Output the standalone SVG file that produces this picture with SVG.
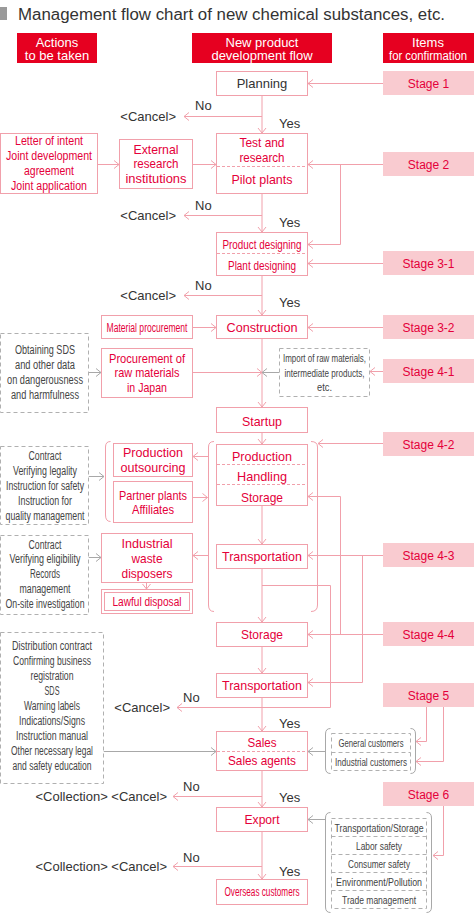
<svg xmlns="http://www.w3.org/2000/svg" width="474" height="914" viewBox="0 0 474 914">
<defs>
<marker id="ap" markerUnits="userSpaceOnUse" markerWidth="8" markerHeight="10" refX="6" refY="5" orient="auto"><path d="M1,1 L6,5 L1,9" fill="none" stroke="#f1a0ab" stroke-width="1"/></marker>
<marker id="ag" markerUnits="userSpaceOnUse" markerWidth="8" markerHeight="10" refX="6" refY="5" orient="auto"><path d="M1,1 L6,5 L1,9" fill="none" stroke="#a8a8a8" stroke-width="1"/></marker>
<style>
.b{fill:#fff;stroke:#f1a0ab;stroke-width:1}
.g{fill:#fff;stroke:#b0b0b0;stroke-width:1;stroke-dasharray:4 3}
.gn{fill:none;stroke:#b0b0b0;stroke-width:1;stroke-dasharray:4 3}
.st{fill:#f9cbd0}
.hd{fill:#e60020}
.l{fill:none;stroke:#f1a0ab;stroke-width:1}
.lg{fill:none;stroke:#a8a8a8;stroke-width:1}
.dv{stroke:#f1a0ab;stroke-width:1;stroke-dasharray:3 2}
text{font-family:"Liberation Sans",Arial,sans-serif;font-size:13px;text-anchor:middle}
.r{fill:#e4003a}
.k{fill:#333}
.gr{fill:#444;font-size:12px}
.w{fill:#fff}
.s{fill:#e4003a;font-size:12px}
.sm{font-size:12px}
.lt{text-anchor:start}
.en{text-anchor:end}
</style>
</defs>

<g id="title">
<rect x="0" y="7" width="7" height="13" fill="#9a9a9a"/>
<text class="k lt" x="18" y="19.5" style="font-size:16px" textLength="427" lengthAdjust="spacingAndGlyphs">Management flow chart of new chemical substances, etc.</text>
</g>

<g id="headers">
<rect class="hd" x="17" y="33" width="80" height="30"/>
<text class="w" x="57" y="46.5">Actions</text>
<text class="w" x="57" y="60">to be taken</text>
<rect class="hd" x="192" y="33" width="140" height="30"/>
<text class="w" x="262" y="46.5">New product</text>
<text class="w" x="262" y="60">development flow</text>
<rect class="hd" x="383" y="33" width="91" height="30"/>
<text class="w" x="428" y="46.5">Items</text>
<text class="w" x="428" y="60" style="font-size:12px" textLength="78" lengthAdjust="spacingAndGlyphs">for confirmation</text>
</g>

<g id="stages">
<g id="stage1"><rect class="st" x="383" y="71" width="91" height="24"/><text class="s" x="428.5" y="87.5">Stage 1</text></g>
<g id="stage2"><rect class="st" x="383" y="152" width="91" height="24"/><text class="s" x="428.5" y="168.5">Stage 2</text></g>
<g id="stage3-1"><rect class="st" x="383" y="251" width="91" height="24"/><text class="s" x="428.5" y="267.5">Stage 3-1</text></g>
<g id="stage3-2"><rect class="st" x="383" y="315" width="91" height="24"/><text class="s" x="428.5" y="331.5">Stage 3-2</text></g>
<g id="stage4-1"><rect class="st" x="383" y="359" width="91" height="24"/><text class="s" x="428.5" y="375.5">Stage 4-1</text></g>
<g id="stage4-2"><rect class="st" x="383" y="432" width="91" height="24"/><text class="s" x="428.5" y="448.5">Stage 4-2</text></g>
<g id="stage4-3"><rect class="st" x="383" y="543" width="91" height="24"/><text class="s" x="428.5" y="559.5">Stage 4-3</text></g>
<g id="stage4-4"><rect class="st" x="383" y="622" width="91" height="24"/><text class="s" x="428.5" y="638.5">Stage 4-4</text></g>
<g id="stage5"><rect class="st" x="383" y="683" width="91" height="24"/><text class="s" x="428.5" y="699.5">Stage 5</text></g>
<g id="stage6"><rect class="st" x="383" y="782" width="91" height="24"/><text class="s" x="428.5" y="798.5">Stage 6</text></g>
</g>

<g id="connectors">
<path class="l" d="M262 95.5V133" marker-end="url(#ap)"/>
<path class="l" d="M262 193.5V232" marker-end="url(#ap)"/>
<path class="l" d="M262 275.5V315" marker-end="url(#ap)"/>
<path class="l" d="M262 338.5V407" marker-end="url(#ap)"/>
<path class="l" d="M262 432.5V444" marker-end="url(#ap)"/>
<path class="l" d="M262 505.5V544" marker-end="url(#ap)"/>
<path class="l" d="M262 568.5V622" marker-end="url(#ap)"/>
<path class="l" d="M262 646.5V673" marker-end="url(#ap)"/>
<path class="l" d="M262 697.5V731" marker-end="url(#ap)"/>
<path class="l" d="M262 770.5V807" marker-end="url(#ap)"/>
<path class="l" d="M262 831.5V879" marker-end="url(#ap)"/>
<path class="l" d="M262 116.5H184" marker-end="url(#ap)"/>
<path class="l" d="M262 215.5H184" marker-end="url(#ap)"/>
<path class="l" d="M262 295.5H184" marker-end="url(#ap)"/>
<path class="l" d="M262 585.5H330.5V707.5H177" marker-end="url(#ap)"/>
<path class="l" d="M262 796.5H173" marker-end="url(#ap)"/>
<path class="l" d="M262 866.5H173" marker-end="url(#ap)"/>
<path class="l" d="M383 83.5H308" marker-end="url(#ap)"/>
<path class="l" d="M383 164.5H308" marker-end="url(#ap)"/>
<path class="l" d="M340.5 164.5V244.5H308" marker-end="url(#ap)"/>
<path class="l" d="M383 263.5H308" marker-end="url(#ap)"/>
<path class="l" d="M383 327.5H308" marker-end="url(#ap)"/>
<path class="l" d="M383 371.5H370" marker-end="url(#ap)"/>
<path class="l" d="M383 443.5H318" marker-end="url(#ap)"/>
<path class="l" d="M383 555.5H308" marker-end="url(#ap)"/>
<path class="l" d="M362.5 555.5V682.5H308" marker-end="url(#ap)"/>
<path class="l" d="M383 634.5H308" marker-end="url(#ap)"/>
<path class="l" d="M340.5 634.5V496.5H308" marker-end="url(#ap)"/>
<path class="l" d="M426.5 707V741.5H416" marker-end="url(#ap)"/>
<path class="l" d="M443.5 707V761.5H416" marker-end="url(#ap)"/>
<path class="l" d="M443.5 806V855.5H433" marker-end="url(#ap)"/>
<path class="l" d="M97.5 164.5H119" marker-end="url(#ap)"/>
<path class="l" d="M192.5 164.5H216" marker-end="url(#ap)"/>
<path class="l" d="M192.5 327.5H216" marker-end="url(#ap)"/>
<path class="l" d="M192.5 372.5H262" marker-end="url(#ap)"/>
<path class="lg" d="M279.5 372.5H262" marker-end="url(#ag)"/>
<path class="lg" d="M88.5 372.5H101" marker-end="url(#ag)"/>
<path class="l" d="M208 456.5H193" marker-end="url(#ap)"/>
<path class="l" d="M192.5 497.5H207.5" marker-end="url(#ap)"/>
<path class="lg" d="M88.5 476.5H104" marker-end="url(#ag)"/>
<path class="l" d="M208 555.5H193" marker-end="url(#ap)"/>
<path class="lg" d="M88.5 557.5H101" marker-end="url(#ag)"/>
<path class="l" d="M146.5 582.5V589" marker-end="url(#ap)"/>
<path class="lg" d="M103.5 751.5H216" marker-end="url(#ag)"/>
<path class="lg" d="M325 751.5H308" marker-end="url(#ag)"/>
<path class="lg" d="M325 819.5H308" marker-end="url(#ag)"/>
</g>

<g id="labels">
<text class="k lt" x="195" y="110">No</text>
<text class="k lt" x="279" y="128">Yes</text>
<text class="k en" x="176" y="120.5">&lt;Cancel&gt;</text>
<text class="k lt" x="195" y="210">No</text>
<text class="k lt" x="279" y="227">Yes</text>
<text class="k en" x="176" y="219.5">&lt;Cancel&gt;</text>
<text class="k lt" x="195" y="290">No</text>
<text class="k lt" x="279" y="307">Yes</text>
<text class="k en" x="176" y="299.5">&lt;Cancel&gt;</text>
<text class="k lt" x="183" y="701.5">No</text>
<text class="k lt" x="279" y="728">Yes</text>
<text class="k en" x="170" y="711.5">&lt;Cancel&gt;</text>
<text class="k lt" x="183" y="791">No</text>
<text class="k lt" x="279" y="802">Yes</text>
<text class="k en" x="167" y="801">&lt;Collection&gt; &lt;Cancel&gt;</text>
<text class="k lt" x="183" y="862">No</text>
<text class="k lt" x="279" y="876">Yes</text>
<text class="k en" x="167" y="871">&lt;Collection&gt; &lt;Cancel&gt;</text>
</g>

<g id="planning"><rect class="b" x="216.5" y="71.5" width="91" height="24"/><text class="k" x="262" y="88">Planning</text></g>

<g id="test-research">
<rect class="b" x="216.5" y="133.5" width="91" height="60"/>
<line class="dv" x1="217" y1="166.5" x2="307" y2="166.5"/>
<text class="r" x="262" y="146.5" textLength="45" lengthAdjust="spacingAndGlyphs">Test and</text>
<text class="r" x="262" y="161.5" textLength="45" lengthAdjust="spacingAndGlyphs">research</text>
<text class="r" x="262" y="183.5" textLength="61" lengthAdjust="spacingAndGlyphs">Pilot plants</text>
</g>

<g id="designing">
<rect class="b" x="216.5" y="232.5" width="91" height="43"/>
<line class="dv" x1="217" y1="253.5" x2="307" y2="253.5"/>
<text class="r sm" x="262" y="248.5" textLength="79" lengthAdjust="spacingAndGlyphs">Product designing</text>
<text class="r sm" x="262" y="270" textLength="68" lengthAdjust="spacingAndGlyphs">Plant designing</text>
</g>

<g id="construction"><rect class="b" x="216.5" y="315.5" width="91" height="23"/><text class="r" x="262" y="331.5" textLength="71" lengthAdjust="spacingAndGlyphs">Construction</text></g>

<g id="startup"><rect class="b" x="216.5" y="407.5" width="91" height="25"/><text class="r" x="262" y="426" textLength="40" lengthAdjust="spacingAndGlyphs">Startup</text></g>

<g id="production">
<rect class="b" x="216.5" y="444.5" width="91" height="61"/>
<line class="dv" x1="217" y1="464.5" x2="307" y2="464.5"/>
<line class="dv" x1="217" y1="484.5" x2="307" y2="484.5"/>
<text class="r" x="262" y="460.5" textLength="60" lengthAdjust="spacingAndGlyphs">Production</text>
<text class="r" x="262" y="481" textLength="50" lengthAdjust="spacingAndGlyphs">Handling</text>
<text class="r" x="262" y="501.5" textLength="42" lengthAdjust="spacingAndGlyphs">Storage</text>
</g>

<g id="production-bracket">
<path class="l" d="M214 441.5Q208.5 441.5 208.5 447V605Q208.5 611.5 214 611.5"/>
<path class="l" d="M311 441.5Q317.5 441.5 317.5 447V605Q317.5 611.5 311 611.5"/>
</g>

<g id="transportation1"><rect class="b" x="216.5" y="544.5" width="91" height="24"/><text class="r" x="262" y="561" textLength="80" lengthAdjust="spacingAndGlyphs">Transportation</text></g>

<g id="storage2"><rect class="b" x="216.5" y="622.5" width="91" height="24"/><text class="r" x="262" y="638.5" textLength="42" lengthAdjust="spacingAndGlyphs">Storage</text></g>

<g id="transportation2"><rect class="b" x="216.5" y="673.5" width="91" height="24"/><text class="r" x="262" y="689.5" textLength="80" lengthAdjust="spacingAndGlyphs">Transportation</text></g>

<g id="sales">
<rect class="b" x="216.5" y="731.5" width="91" height="39"/>
<line class="dv" x1="217" y1="751.5" x2="307" y2="751.5"/>
<text class="r" x="262" y="746.5" textLength="29" lengthAdjust="spacingAndGlyphs">Sales</text>
<text class="r" x="262" y="765" textLength="68" lengthAdjust="spacingAndGlyphs">Sales agents</text>
</g>

<g id="export"><rect class="b" x="216.5" y="807.5" width="91" height="24"/><text class="r" x="262" y="824" textLength="35" lengthAdjust="spacingAndGlyphs">Export</text></g>

<g id="overseas"><rect class="b" x="216.5" y="879.5" width="91" height="25"/><text class="r sm" x="262" y="896" textLength="75" lengthAdjust="spacingAndGlyphs">Overseas customers</text></g>

<g id="letter-of-intent">
<rect class="b" x="0.5" y="133.5" width="97" height="60"/>
<text class="r sm" x="49" y="144.5" textLength="68" lengthAdjust="spacingAndGlyphs">Letter of intent</text>
<text class="r sm" x="49" y="159.5" textLength="86" lengthAdjust="spacingAndGlyphs">Joint development</text>
<text class="r sm" x="49" y="174.5" textLength="50" lengthAdjust="spacingAndGlyphs">agreement</text>
<text class="r sm" x="49" y="189.5" textLength="76" lengthAdjust="spacingAndGlyphs">Joint application</text>
</g>

<g id="external-research">
<rect class="b" x="119.5" y="139.5" width="73" height="49"/>
<text class="r" x="156" y="153.5" textLength="45" lengthAdjust="spacingAndGlyphs">External</text>
<text class="r" x="156" y="167.5" textLength="45" lengthAdjust="spacingAndGlyphs">research</text>
<text class="r" x="156" y="182.5" textLength="61" lengthAdjust="spacingAndGlyphs">institutions</text>
</g>

<g id="material-procurement"><rect class="b" x="101.5" y="315.5" width="91" height="23"/><text class="r sm" x="147" y="331.5" textLength="81" lengthAdjust="spacingAndGlyphs">Material procurement</text></g>

<g id="obtaining-sds">
<rect class="g" x="0.5" y="333.5" width="88" height="79"/>
<text class="gr" x="45" y="354" textLength="60" lengthAdjust="spacingAndGlyphs">Obtaining SDS</text>
<text class="gr" x="45" y="369" textLength="60" lengthAdjust="spacingAndGlyphs">and other data</text>
<text class="gr" x="45" y="383.5" textLength="76" lengthAdjust="spacingAndGlyphs">on dangerousness</text>
<text class="gr" x="45" y="398.5" textLength="68" lengthAdjust="spacingAndGlyphs">and harmfulness</text>
</g>

<g id="procurement-japan">
<rect class="b" x="101.5" y="348.5" width="91" height="49"/>
<text class="r" x="147" y="362.5" textLength="76" lengthAdjust="spacingAndGlyphs">Procurement of</text>
<text class="r" x="147" y="377" textLength="65" lengthAdjust="spacingAndGlyphs">raw materials</text>
<text class="r" x="147" y="392" textLength="40" lengthAdjust="spacingAndGlyphs">in Japan</text>
</g>

<g id="import">
<rect class="g" x="279.5" y="348.5" width="90" height="48"/>
<text class="gr" x="324.5" y="362" style="font-size:11.5px" textLength="83" lengthAdjust="spacingAndGlyphs">Import of raw materials,</text>
<text class="gr" x="324.5" y="376.5" style="font-size:11.5px" textLength="80" lengthAdjust="spacingAndGlyphs">intermediate products,</text>
<text class="gr" x="324.5" y="391" style="font-size:11.5px" textLength="15" lengthAdjust="spacingAndGlyphs">etc.</text>
</g>

<g id="contract-legality">
<rect class="g" x="0.5" y="446.5" width="88" height="78"/>
<text class="gr" x="45" y="459.5" textLength="33" lengthAdjust="spacingAndGlyphs">Contract</text>
<text class="gr" x="45" y="475" textLength="64" lengthAdjust="spacingAndGlyphs">Verifying legality</text>
<text class="gr" x="45" y="489.5" textLength="78" lengthAdjust="spacingAndGlyphs">Instruction for safety</text>
<text class="gr" x="45" y="505" textLength="54" lengthAdjust="spacingAndGlyphs">Instruction for</text>
<text class="gr" x="45" y="520" textLength="79" lengthAdjust="spacingAndGlyphs">quality management</text>
</g>

<g id="outsourcing-bracket"><path class="l" d="M110.5 441.5Q105.5 441.5 105.5 447V515Q105.5 521.5 110.5 521.5"/></g>

<g id="production-outsourcing">
<rect class="b" x="113.5" y="443.5" width="79" height="33"/>
<text class="r" x="153" y="456.5" textLength="60" lengthAdjust="spacingAndGlyphs">Production</text>
<text class="r" x="153" y="471.5" textLength="65" lengthAdjust="spacingAndGlyphs">outsourcing</text>
</g>

<g id="partner-plants">
<rect class="b" x="113.5" y="481.5" width="79" height="41"/>
<text class="r" x="153" y="499.5" textLength="68" lengthAdjust="spacingAndGlyphs">Partner plants</text>
<text class="r" x="153" y="513.5" textLength="42" lengthAdjust="spacingAndGlyphs">Affiliates</text>
</g>

<g id="contract-eligibility">
<rect class="g" x="0.5" y="535.5" width="88" height="79"/>
<text class="gr" x="45" y="548.5" textLength="33" lengthAdjust="spacingAndGlyphs">Contract</text>
<text class="gr" x="45" y="562.5" textLength="71" lengthAdjust="spacingAndGlyphs">Verifying eligibility</text>
<text class="gr" x="45" y="577.5" textLength="30" lengthAdjust="spacingAndGlyphs">Records</text>
<text class="gr" x="45" y="592.5" textLength="51" lengthAdjust="spacingAndGlyphs">management</text>
<text class="gr" x="45" y="607.5" textLength="79" lengthAdjust="spacingAndGlyphs">On-site investigation</text>
</g>

<g id="industrial-waste">
<rect class="b" x="101.5" y="533.5" width="91" height="49"/>
<text class="r" x="147" y="547.5" textLength="51" lengthAdjust="spacingAndGlyphs">Industrial</text>
<text class="r" x="147" y="562.5" textLength="31" lengthAdjust="spacingAndGlyphs">waste</text>
<text class="r" x="147" y="577.5" textLength="51" lengthAdjust="spacingAndGlyphs">disposers</text>
</g>

<g id="lawful-disposal">
<rect class="b" x="101.5" y="589.5" width="91" height="24"/>
<rect class="b" x="104.5" y="592.5" width="85" height="18"/>
<text class="r sm" x="147" y="606" textLength="69" lengthAdjust="spacingAndGlyphs">Lawful disposal</text>
</g>

<g id="distribution">
<rect class="g" x="0.5" y="632.5" width="103" height="151"/>
<text class="gr" x="52" y="650" textLength="80" lengthAdjust="spacingAndGlyphs">Distribution contract</text>
<text class="gr" x="52" y="665" textLength="78" lengthAdjust="spacingAndGlyphs">Confirming business</text>
<text class="gr" x="52" y="680" textLength="43" lengthAdjust="spacingAndGlyphs">registration</text>
<text class="gr" x="52" y="695" textLength="15" lengthAdjust="spacingAndGlyphs">SDS</text>
<text class="gr" x="52" y="710" textLength="56" lengthAdjust="spacingAndGlyphs">Warning labels</text>
<text class="gr" x="52" y="725" textLength="66" lengthAdjust="spacingAndGlyphs">Indications/Signs</text>
<text class="gr" x="52" y="740" textLength="72" lengthAdjust="spacingAndGlyphs">Instruction manual</text>
<text class="gr" x="52" y="755" textLength="82" lengthAdjust="spacingAndGlyphs">Other necessary legal</text>
<text class="gr" x="52" y="770" textLength="79" lengthAdjust="spacingAndGlyphs">and safety education</text>
</g>

<g id="customers">
<path class="lg" d="M330.5 728.5Q325.5 728.5 325.5 734V768Q325.5 773.5 330.5 773.5"/>
<path class="lg" d="M410.5 728.5Q415.5 728.5 415.5 734V768Q415.5 773.5 410.5 773.5"/>
<rect class="gn" x="331.5" y="733.5" width="79" height="37"/>
<line class="gn" x1="331.5" y1="752.5" x2="410.5" y2="752.5"/>
<text class="gr" x="371" y="747" style="font-size:11.5px" textLength="65" lengthAdjust="spacingAndGlyphs">General customers</text>
<text class="gr" x="371" y="765.5" style="font-size:11.5px" textLength="72" lengthAdjust="spacingAndGlyphs">Industrial customers</text>
</g>

<g id="regulations">
<path class="lg" d="M330.5 812.5Q325.5 812.5 325.5 818V907Q325.5 912.5 330.5 912.5"/>
<path class="lg" d="M426.5 812.5Q431.5 812.5 431.5 818V907Q431.5 912.5 426.5 912.5"/>
<rect class="gn" x="331.5" y="818.5" width="95" height="90"/>
<line class="gn" x1="331.5" y1="836.5" x2="426.5" y2="836.5"/>
<line class="gn" x1="331.5" y1="854.5" x2="426.5" y2="854.5"/>
<line class="gn" x1="331.5" y1="872.5" x2="426.5" y2="872.5"/>
<line class="gn" x1="331.5" y1="890.5" x2="426.5" y2="890.5"/>
<text class="gr" x="379" y="831.5" style="font-size:11.5px" textLength="89" lengthAdjust="spacingAndGlyphs">Transportation/Storage</text>
<text class="gr" x="379" y="849.5" style="font-size:11.5px" textLength="46" lengthAdjust="spacingAndGlyphs">Labor safety</text>
<text class="gr" x="379" y="867.5" style="font-size:11.5px" textLength="62" lengthAdjust="spacingAndGlyphs">Consumer safety</text>
<text class="gr" x="379" y="885.5" style="font-size:11.5px" textLength="86" lengthAdjust="spacingAndGlyphs">Environment/Pollution</text>
<text class="gr" x="379" y="903.5" style="font-size:11.5px" textLength="74" lengthAdjust="spacingAndGlyphs">Trade management</text>
</g>
</svg>
